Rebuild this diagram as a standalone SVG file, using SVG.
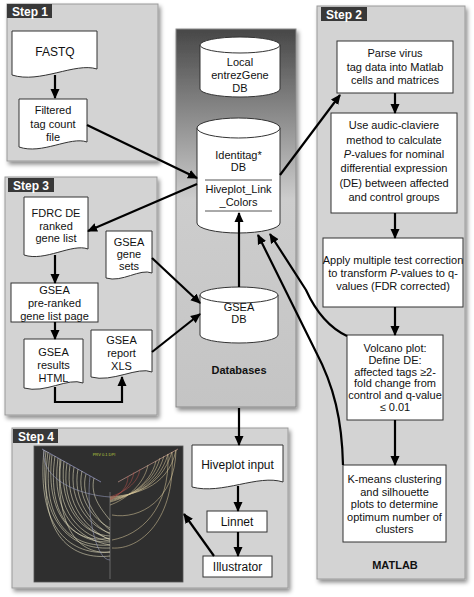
<svg xmlns="http://www.w3.org/2000/svg" width="474" height="597" viewBox="0 0 474 597">
<defs>
<style>
.panel{fill:#d3d3d3;stroke:#9a9a9a;stroke-width:1;filter:url(#sh)}
.lab{fill:#383838}
.labt{font-family:"Liberation Sans",Arial,sans-serif;font-size:12px;font-weight:bold;fill:#fff}
.box{fill:#fff;stroke:#333;stroke-width:1}
.t{font-family:"Liberation Sans",Arial,sans-serif;font-size:11px;fill:#111;text-anchor:middle}
.b{font-weight:bold}
.c{fill:none;stroke:#000;stroke-width:2.2}
.a{marker-end:url(#ah)}
.hv{fill:none;stroke-width:0.9;opacity:0.6}
</style>
<marker id="ah" viewBox="0 0 10 10" refX="9" refY="5" markerWidth="10" markerHeight="10" markerUnits="userSpaceOnUse" orient="auto">
<path d="M0,0.5 L10,5 L0,9.5 Z" fill="#000"/>
</marker>
<filter id="sh" x="-10%" y="-10%" width="130%" height="130%">
<feDropShadow dx="2" dy="3" stdDeviation="2" flood-color="#000" flood-opacity="0.45"/>
</filter>
<linearGradient id="dbg" x1="0" y1="0" x2="0" y2="1">
<stop offset="0" stop-color="#474747"/>
<stop offset="0.45" stop-color="#cdcdcd"/>
<stop offset="1" stop-color="#c4c4c4"/>
</linearGradient>
</defs>

<!-- panels -->
<g id="panel-step1">
<rect class="panel" x="7" y="4" width="151" height="157"/>
<rect class="lab" x="7" y="4" width="45" height="14"/>
<text class="labt" x="12" y="16">Step 1</text>
</g>
<g id="panel-step3">
<rect class="panel" x="5" y="177" width="152" height="238"/>
<rect class="lab" x="8" y="178" width="46" height="14"/>
<text class="labt" x="13" y="190">Step 3</text>
</g>
<g id="panel-databases">
<rect x="176" y="29" width="120" height="378" fill="url(#dbg)" stroke="#8a8a8a" filter="url(#sh)"/>
<text class="t b" x="239" y="374">Databases</text>
</g>
<g id="panel-step2">
<rect class="panel" x="317" y="6" width="148" height="573"/>
<rect class="lab" x="321" y="7" width="46" height="14"/>
<text class="labt" x="326" y="19">Step 2</text>
<text class="t b" x="395" y="569">MATLAB</text>
</g>
<g id="panel-step4">
<rect class="panel" x="12" y="428" width="276" height="160"/>
<rect class="lab" x="13" y="429" width="45" height="14"/>
<text class="labt" x="18" y="441">Step 4</text>
</g>

<!-- hive plot picture -->
<g id="hiveplot">
<rect x="34" y="446" width="149" height="136" fill="#2f2f2f" stroke="#555" stroke-width="0.8"/>
<line x1="42" y1="449" x2="101" y2="482" stroke="#8d8fb8" stroke-width="0.8"/>
<line x1="178" y1="449" x2="118" y2="482" stroke="#b08a80" stroke-width="0.8"/>
<line x1="110" y1="492" x2="110" y2="579" stroke="#777" stroke-width="0.8"/>
<g stroke="#ece6c6">
<path class="hv" d="M44,450 C36,530 72,556 110,552"/>
<path class="hv" d="M46,451 C38,520 70,550 110,548"/>
<path class="hv" d="M50,454 C40,525 74,548 110,545"/>
<path class="hv" d="M52,455 C44,520 78,545 110,538"/>
<path class="hv" d="M55,456 C46,518 76,543 110,542"/>
<path class="hv" d="M58,458 C50,515 80,540 110,545"/>
<path class="hv" d="M61,460 C54,512 82,538 110,541"/>
<path class="hv" d="M64,461 C58,510 85,535 110,536"/>
<path class="hv" d="M67,463 C60,508 86,532 110,539"/>
<path class="hv" d="M70,465 C64,505 88,530 110,540"/>
<path class="hv" d="M74,467 C68,502 90,527 110,533"/>
<path class="hv" d="M78,469 C72,500 92,525 110,534"/>
<path class="hv" d="M82,471 C76,498 94,520 110,528"/>
<path class="hv" d="M86,474 C80,495 95,518 110,530"/>
<path class="hv" d="M94,478 C90,495 100,508 110,520"/>
<path class="hv" d="M48,452 C36,540 75,560 110,556"/>
<path class="hv" d="M60,459 C55,530 80,555 110,552"/>
</g>
<g stroke="#d8c89a">
<path class="hv" d="M176,450 C168,490 130,495 110,497"/>
<path class="hv" d="M172,452 C160,490 130,495 110,498"/>
<path class="hv" d="M168,454 C158,489 129,496 110,499"/>
<path class="hv" d="M164,456 C155,488 128,496 110,500"/>
<path class="hv" d="M160,458 C152,487 127,497 110,501"/>
<path class="hv" d="M156,461 C150,486 126,498 110,502"/>
<path class="hv" d="M148,465 C144,485 125,500 110,505"/>
<path class="hv" d="M176,450 C175,500 140,520 112,515"/>
<path class="hv" d="M168,454 C170,510 140,535 112,540"/>
<path class="hv" d="M172,452 C176,520 140,550 112,548"/>
</g>
<g stroke="#b0504a">
<path class="hv" d="M140,469 C138,484 124,492 110,497"/>
<path class="hv" d="M134,472 C132,486 122,493 110,499"/>
<path class="hv" d="M128,476 C128,488 120,494 110,500"/>
</g>
<g stroke="#9fa4c8">
<path class="hv" d="M44,450 C40,480 80,495 110,497"/>
<path class="hv" d="M90,476 C86,510 95,560 110,560"/>
</g>
<text x="104" y="456" font-family="Liberation Sans,Arial,sans-serif" font-size="4" fill="#b8cc40" text-anchor="middle">PRV 0.1 DPI</text>
</g>

<!-- nodes -->
<g id="fastq">
<path class="box" d="M12,31 H97 V69 C75,62 40,84 12,75 Z"/>
<text class="t" x="55" y="56" style="font-size:12px">FASTQ</text>
</g>
<g id="filtered">
<path class="box" d="M19,99 H87 V142 C70,136 42,155 19,147 Z"/>
<text class="t" x="53" y="114">Filtered</text>
<text class="t" x="53" y="127.5">tag count</text>
<text class="t" x="53" y="141">file</text>
</g>
<g id="fdrc">
<path class="box" d="M24,197 H88 V249 C72,243 45,262 24,255 Z"/>
<text class="t" x="56" y="217">FDRC DE</text>
<text class="t" x="56" y="230">ranked</text>
<text class="t" x="56" y="242">gene list</text>
</g>
<g id="gsea-gene-sets">
<path class="box" d="M106,231 H152 V273 C140,268 122,283 106,278 Z"/>
<text class="t" x="129" y="246">GSEA</text>
<text class="t" x="129" y="258">gene</text>
<text class="t" x="129" y="270">sets</text>
</g>
<g id="gsea-preranked">
<rect class="box" x="11" y="283" width="87" height="39"/>
<text class="t" x="54.5" y="294">GSEA</text>
<text class="t" x="54.5" y="307">pre-ranked</text>
<text class="t" x="54.5" y="320">gene list page</text>
</g>
<g id="gsea-results">
<path class="box" d="M24,339 H83 V383 C68,377 45,394 24,388 Z"/>
<text class="t" x="53.5" y="356">GSEA</text>
<text class="t" x="53.5" y="369">results</text>
<text class="t" x="53.5" y="382">HTML</text>
</g>
<g id="gsea-report">
<path class="box" d="M91,330 H152 V372 C138,366 112,383 91,377 Z"/>
<text class="t" x="121.5" y="344">GSEA</text>
<text class="t" x="121.5" y="357">report</text>
<text class="t" x="121.5" y="370">XLS</text>
</g>
<g id="local-entrezgene-db">
<path class="box" d="M200,45 A40,8 0 0 1 280,45 V89 A40,8 0 0 1 200,89 Z"/>
<path class="box" fill="none" d="M200,45 A40,8 0 0 0 280,45"/>
<text class="t" x="240" y="66">Local</text>
<text class="t" x="240" y="79">entrezGene</text>
<text class="t" x="240" y="92">DB</text>
</g>
<g id="identitag-db">
<path class="box" d="M197,128 A41.5,10 0 0 1 280,128 V223 A41.5,10 0 0 1 197,223 Z"/>
<path class="box" fill="none" d="M197,128 A41.5,10 0 0 0 280,128"/>
<text class="t" x="238.5" y="159">Identitag*</text>
<text class="t" x="238.5" y="171">DB</text>
<line x1="205" y1="180" x2="272" y2="180" stroke="#555" stroke-width="1"/>
<text class="t" x="238.5" y="193">Hiveplot_Link</text>
<text class="t" x="238.5" y="206">_Colors</text>
<line x1="205" y1="211" x2="272" y2="211" stroke="#555" stroke-width="1"/>
</g>
<g id="gsea-db">
<path class="box" d="M200,295 A39,8 0 0 1 278,295 V335 A39,8 0 0 1 200,335 Z"/>
<path class="box" fill="none" d="M200,295 A39,8 0 0 0 278,295"/>
<text class="t" x="239" y="311">GSEA</text>
<text class="t" x="239" y="323">DB</text>
</g>
<g id="parse">
<rect class="box" x="337" y="41" width="116" height="52"/>
<text class="t" x="395" y="57">Parse virus</text>
<text class="t" x="395" y="71">tag data into Matlab</text>
<text class="t" x="395" y="84">cells and matrices</text>
</g>
<g id="audic">
<rect class="box" x="331" y="113" width="126" height="100"/>
<text class="t" x="394" y="129">Use audic-claviere</text>
<text class="t" x="394" y="144">method to calculate</text>
<text class="t" x="394" y="158"><tspan font-style="italic">P</tspan>-values for nominal</text>
<text class="t" x="394" y="172">differential expression</text>
<text class="t" x="394" y="187">(DE) between affected</text>
<text class="t" x="394" y="201">and control groups</text>
</g>
<g id="apply">
<rect class="box" x="323" y="238" width="140" height="69"/>
<text class="t" x="393" y="264">Apply multiple test correction</text>
<text class="t" x="393" y="277">to transform <tspan font-style="italic">P</tspan>-values to q-</text>
<text class="t" x="393" y="290">values (FDR corrected)</text>
</g>
<g id="volcano">
<rect class="box" x="347" y="335" width="96" height="85"/>
<text class="t" x="395" y="352">Volcano plot:</text>
<text class="t" x="395" y="364">Define DE:</text>
<text class="t" x="395" y="376">affected tags ≥2-</text>
<text class="t" x="395" y="387">fold change from</text>
<text class="t" x="395" y="399">control and q-value</text>
<text class="t" x="395" y="411">≤ 0.01</text>
</g>
<g id="kmeans">
<rect class="box" x="343" y="465" width="103" height="77"/>
<text class="t" x="394.5" y="483">K-means clustering</text>
<text class="t" x="394.5" y="496">and silhouette</text>
<text class="t" x="394.5" y="508">plots to determine</text>
<text class="t" x="394.5" y="521">optimum number of</text>
<text class="t" x="394.5" y="533">clusters</text>
</g>
<g id="hiveplot-input">
<path class="box" d="M192,445 H283 V482 C258,474 222,495 192,487 Z"/>
<text class="t" x="237.5" y="469" style="font-size:12px">Hiveplot input</text>
</g>
<g id="linnet">
<rect class="box" x="207" y="511" width="60" height="21"/>
<text class="t" x="237" y="526" style="font-size:12px">Linnet</text>
</g>
<g id="illustrator">
<rect class="box" x="203" y="556" width="69" height="21"/>
<text class="t" x="237.5" y="571" style="font-size:12px">Illustrator</text>
</g>

<!-- connectors -->
<g id="connectors">
<path class="c a" d="M55,75 V98"/>
<path class="c a" d="M87,125 L197,178"/>
<path class="c a" d="M197,184 L88,231"/>
<path class="c a" d="M55,255 V283"/>
<path class="c a" d="M55,322 V339"/>
<path class="c a" d="M55,387 V402 H122 V377"/>
<path class="c a" d="M152,258 L200,303"/>
<path class="c a" d="M152,352 L200,314"/>
<path class="c a" d="M239,287 V213"/>
<path class="c a" d="M280,175 L340,95"/>
<path class="c a" d="M395,93 V113"/>
<path class="c a" d="M395,213 V238"/>
<path class="c a" d="M395,307 V335"/>
<path class="c a" d="M395,420 V465"/>
<path class="c a" d="M347,336 C330,328 316,312 306,290 L270,234"/>
<path class="c a" d="M343,465 C342,420 334,386 316,352 L258,235"/>
<path class="c a" d="M239,408 V445"/>
<path class="c a" d="M238,486 V511"/>
<path class="c a" d="M238,532 V556"/>
<path class="c a" d="M214,556 L184,514"/>
</g>
</svg>
